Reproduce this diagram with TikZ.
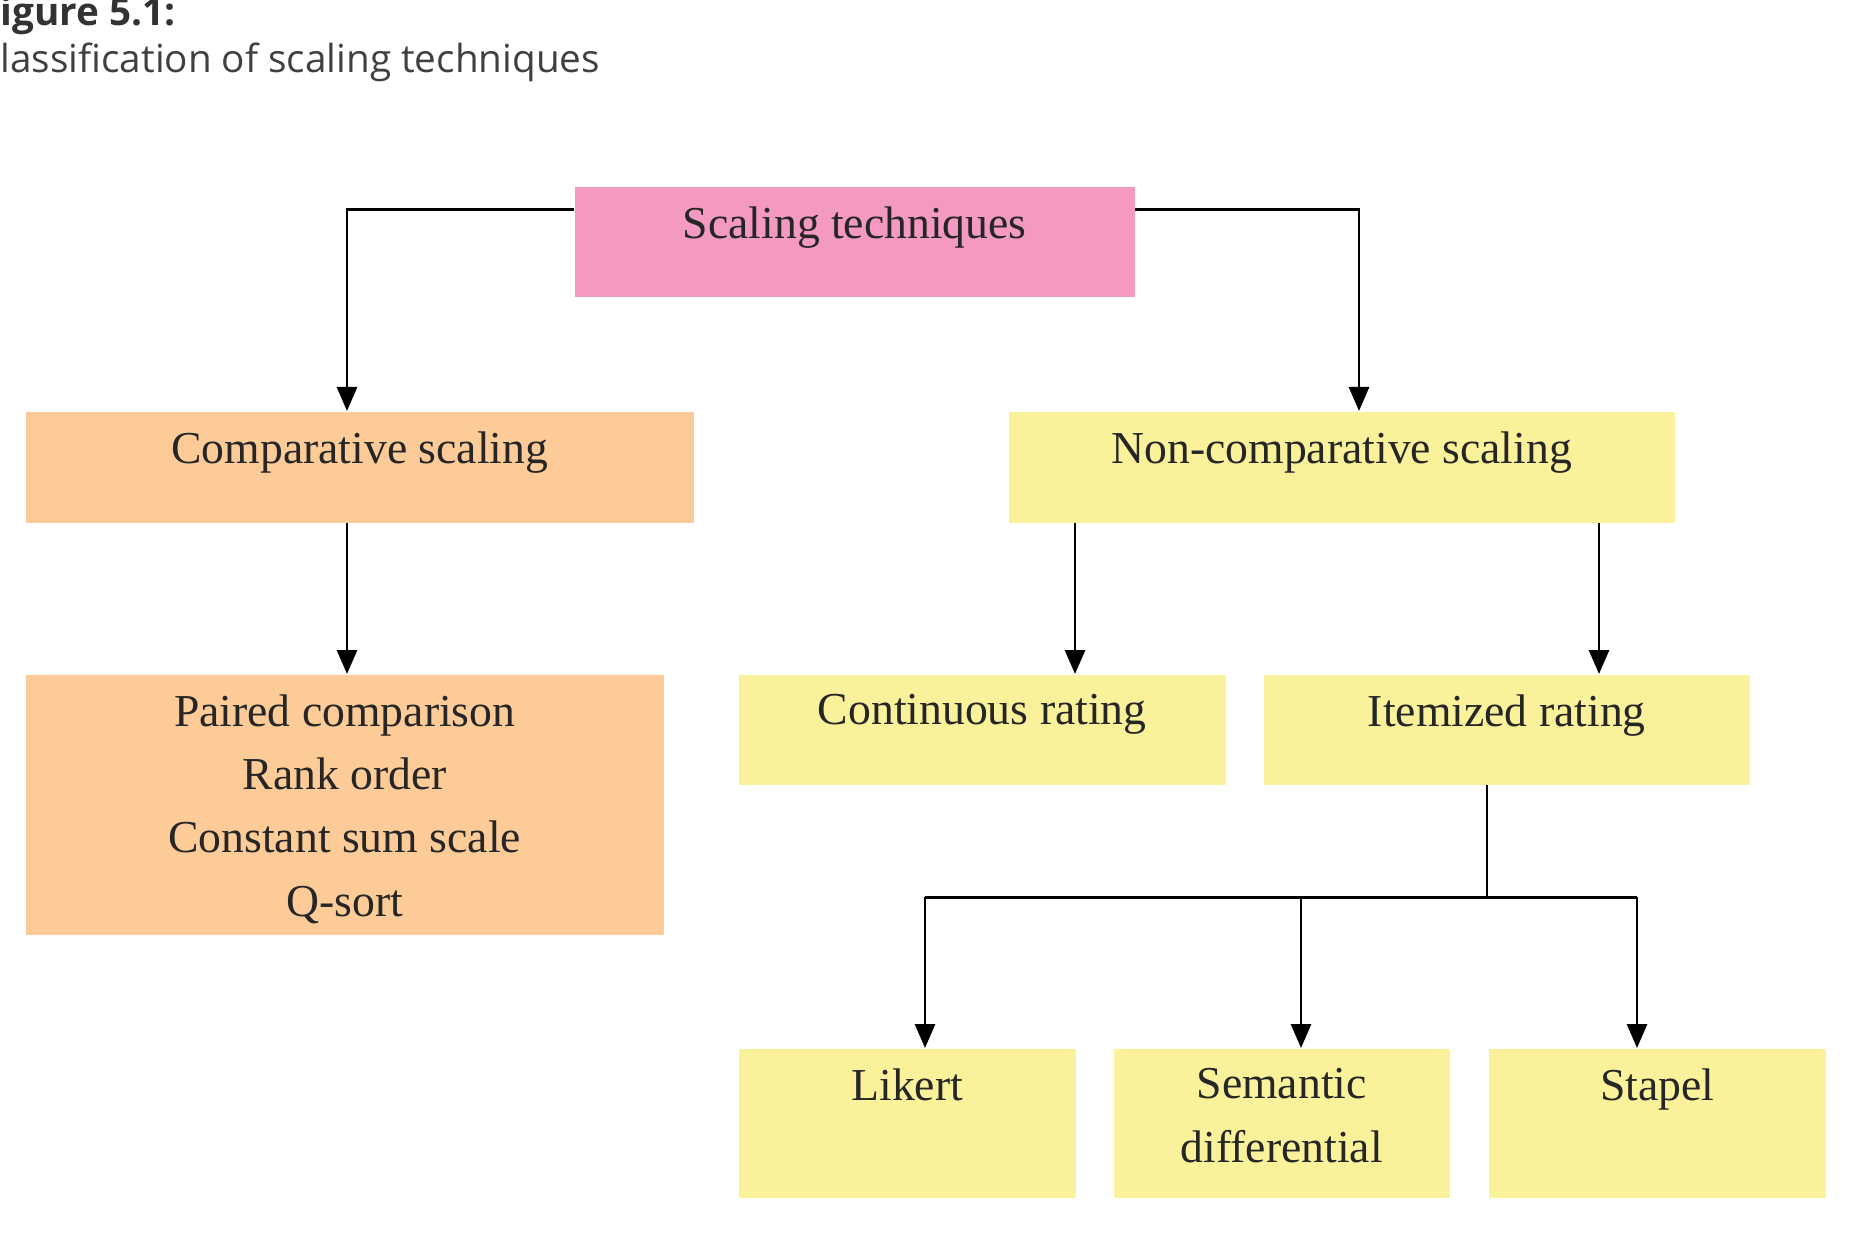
\documentclass[tikz,border=0pt]{standalone}
\usepackage{fontspec}
\setmainfont{Liberation Serif}
\newfontfamily\capfont{Open Sans}
\usepackage{xcolor}
\usetikzlibrary{positioning}
\usetikzlibrary{arrows.meta, calc}
\definecolor{rootpink}{HTML}{F49AC2}
\definecolor{comporange}{HTML}{FCCB98}
\definecolor{noncompyellow}{HTML}{FAF19B}
\tikzset{
    box/.style={draw=none, inner sep=0pt, anchor=north west},
    lbl/.style={anchor=north, inner sep=0pt, yshift=-0.2cm, align=center,
        font=\fontsize{13}{18}\selectfont, text=black!85},
    conn/.style={thick, -{Triangle[length=0.24cm, width=0.2cm]}},
    plain/.style={thick}
}
\begin{document}
\begin{tikzpicture}
        \useasboundingbox (0,0) rectangle (18.66,-12.48);
        % caption
        \node[anchor=north west, inner sep=0pt, font=\capfont\bfseries\fontsize{11}{13}\selectfont, text=black!80] (fig) at (0,0.05){igure 5.1:};
        \node[anchor=west, inner sep=0pt, font=\capfont\fontsize{11}{13}\selectfont, text=black!75] (cap) at (0,-0.62){lassification of scaling techniques};
        % boxes
        \node[box, fill=rootpink, minimum width=5.60cm, minimum height=1.10cm,
            label={[lbl]north:Scaling techniques}] (root) at (5.74,-1.86){};
        \node[box, fill=comporange, minimum width=6.68cm, minimum height=1.11cm,
            label={[lbl]north:Comparative scaling}] (comp) at (0.25,-4.11){};
        \node[box, fill=noncompyellow, minimum width=6.66cm, minimum height=1.11cm,
            label={[lbl]north:Non-comparative scaling}] (noncomp) at (10.08,-4.11){};
        \node[box, fill=comporange, minimum width=6.38cm, minimum height=2.60cm,
            label={[lbl]north:Paired comparison\\Rank order\\Constant sum scale\\Q-sort}] (paired) at (0.25,-6.74){};
        \node[box, fill=noncompyellow, minimum width=4.87cm, minimum height=1.10cm,
            label={[lbl]north:Continuous rating}] (cont) at (7.38,-6.74){};
        \node[box, fill=noncompyellow, minimum width=4.86cm, minimum height=1.10cm,
            label={[lbl]north:Itemized rating}] (item) at (12.63,-6.74){};
        \node[box, fill=noncompyellow, minimum width=3.37cm, minimum height=1.49cm,
            label={[lbl]north:Likert}] (likert) at (7.38,-10.48){};
        \node[box, fill=noncompyellow, minimum width=3.36cm, minimum height=1.49cm,
            label={[lbl]north:Semantic\\differential}] (sem) at (11.13,-10.48){};
        \node[box, fill=noncompyellow, minimum width=3.37cm, minimum height=1.49cm,
            label={[lbl]north:Stapel}] (stapel) at (14.88,-10.48){};
        % connectors
        \draw[conn] ($(root.west)+(0,0.32)$) -| (comp.north -| 3.47,0);
        \draw[conn] ($(root.east)+(0,0.32)$) -| (noncomp.north -| 13.59,0);
        \draw[conn] (comp.south -| 3.47,0) -- (paired.north -| 3.47,0);
        \draw[conn] (noncomp.south -| 10.75,0) -- (cont.north -| 10.75,0);
        \draw[conn] (noncomp.south -| 15.99,0) -- (item.north -| 15.99,0);
        \coordinate (split) at ($(item.south -| 14.87,0)+(0,-1.12)$);
        \draw[plain] (item.south -| split) -- (split);
        \draw[plain] (split -| 9.25,0) -- (split -| 16.37,0);
        \draw[conn] (split -| 9.25,0) -- (likert.north -| 9.25,0);
        \draw[conn] (split -| 13.01,0) -- (sem.north -| 13.01,0);
        \draw[conn] (split -| 16.37,0) -- (stapel.north -| 16.37,0);
\end{tikzpicture}
\end{document}
